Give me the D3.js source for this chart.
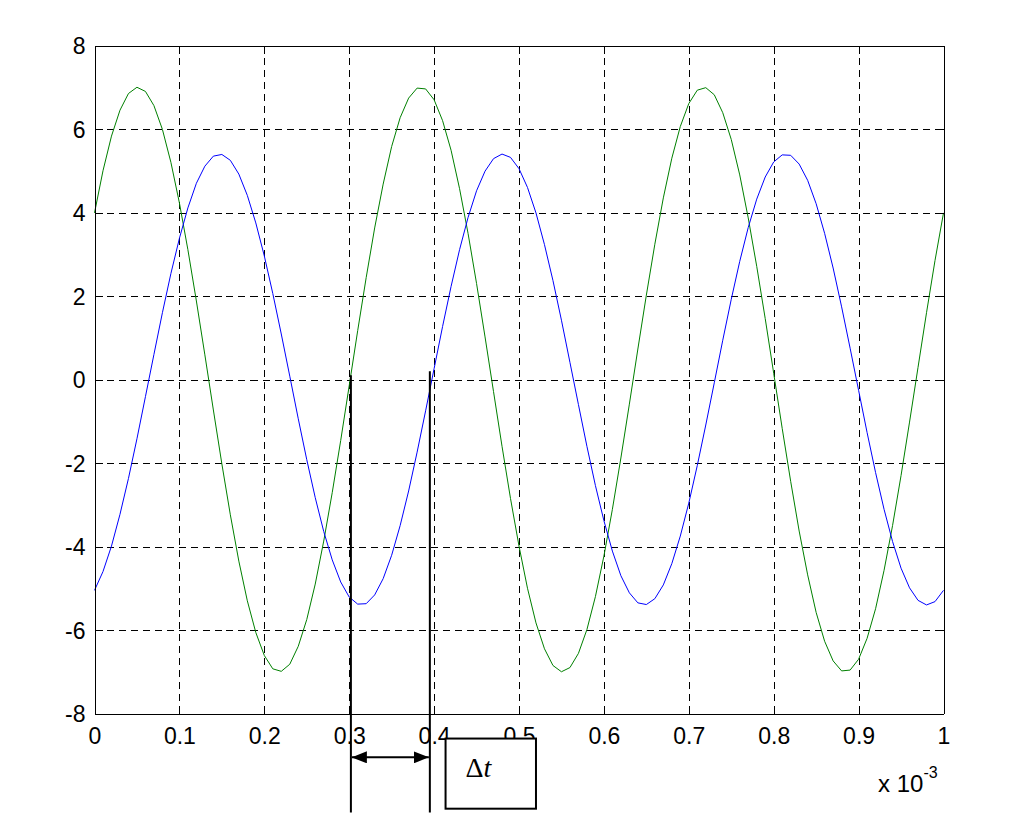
<!DOCTYPE html>
<html>
<head>
<meta charset="utf-8">
<script src="https://cdn.jsdelivr.net/npm/d3@7"></script>
<style>
  html, body { margin: 0; padding: 0; background: #ffffff; }
  svg { display: block; }
</style>
</head>
<body>
<svg id="chart" width="1012" height="822"></svg>
<script>
// ---- data (time in ms, i.e. x 10^-3 s) ----
const timeStep = 0.01;
const greenValues = [
  3.99, 5.00, 5.83, 6.45, 6.85, 7.00, 6.90, 6.56, 5.99, 5.20,
  4.23, 3.11, 1.88, 0.59, -0.73, -2.02, -3.24, -4.35, -5.30, -6.06,
  -6.61, -6.93, -6.99, -6.82, -6.39, -5.75, -4.90, -3.87, -2.71, -1.46,
  -0.15, 1.17, 2.44, 3.63, 4.68, 5.58, 6.27, 6.74, 6.98, 6.96,
  6.70, 6.20, 5.49, 4.57, 3.50, 2.30, 1.02, -0.29, -1.60, -2.85,
  -3.99, -5.00, -5.83, -6.45, -6.85, -7.00, -6.90, -6.56, -5.99, -5.20,
  -4.23, -3.11, -1.88, -0.59, 0.73, 2.02, 3.24, 4.35, 5.30, 6.06,
  6.61, 6.93, 6.99, 6.82, 6.39, 5.75, 4.90, 3.87, 2.71, 1.46,
  0.15, -1.17, -2.44, -3.63, -4.68, -5.58, -6.27, -6.74, -6.98, -6.96,
  -6.70, -6.20, -5.49, -4.57, -3.50, -2.30, -1.02, 0.29, 1.60, 2.85,
  3.99
];
const blueValues = [
  -5.05, -4.60, -3.99, -3.23, -2.37, -1.42, -0.41, 0.60, 1.60, 2.54,
  3.38, 4.11, 4.70, 5.11, 5.35, 5.39, 5.25, 4.92, 4.41, 3.75,
  2.96, 2.06, 1.09, 0.08, -0.94, -1.92, -2.83, -3.64, -4.32, -4.85,
  -5.21, -5.38, -5.37, -5.16, -4.77, -4.21, -3.50, -2.67, -1.74, -0.75,
  0.26, 1.27, 2.23, 3.11, 3.88, 4.52, 4.99, 5.29, 5.40, 5.32,
  5.05, 4.60, 3.99, 3.23, 2.37, 1.42, 0.41, -0.60, -1.60, -2.54,
  -3.38, -4.11, -4.70, -5.11, -5.35, -5.39, -5.25, -4.92, -4.41, -3.75,
  -2.96, -2.06, -1.09, -0.08, 0.94, 1.92, 2.83, 3.64, 4.32, 4.85,
  5.21, 5.38, 5.37, 5.16, 4.77, 4.21, 3.50, 2.67, 1.74, 0.75,
  -0.26, -1.27, -2.23, -3.11, -3.88, -4.52, -4.99, -5.29, -5.40, -5.32,
  -5.05
];
const xTicks = [0, 0.1, 0.2, 0.3, 0.4, 0.5, 0.6, 0.7, 0.8, 0.9, 1];
const xTickLabels = ["0", "0.1", "0.2", "0.3", "0.4", "0.5", "0.6", "0.7", "0.8", "0.9", "1"];
const yTicks = [-8, -6, -4, -2, 0, 2, 4, 6, 8];
const yTickLabels = ["-8", "-6", "-4", "-2", "0", "2", "4", "6", "8"];
const exponentBase = "x 10";
const exponentPower = "-3";
// Δt annotation, in data units
const deltaTimes = [0.302, 0.395];     // the two zero crossings
const deltaLineTops = [0.1, 0.2];       // top of each marker line
const deltaLineBottom = -10.37;
const deltaArrowY = -9.05;
const deltaBox = { t0: 0.4135, t1: 0.52, v0: -8.6, v1: -10.28 };
const deltaLabel = "Δ";
const deltaLabelItalic = "t";

// ---- layout ----
const svg = d3.select("#chart");
const W = 1012, H = 822;
const plot = { left: 94.5, right: 943.5, top: 45.5, bottom: 713.5 };
const SANS = "'Liberation Sans', Arial, sans-serif";
const SERIF = "'Liberation Serif', 'Times New Roman', serif";

svg.append("rect").attr("width", W).attr("height", H).attr("fill", "#ffffff");

const x = d3.scaleLinear().domain([0, 1]).range([plot.left, plot.right]);
const y = d3.scaleLinear().domain([-8, 8]).range([plot.bottom, plot.top]);

// grid
const grid = svg.append("g").attr("stroke", "#000").attr("stroke-width", 1)
  .attr("stroke-dasharray", "7,5").attr("shape-rendering", "crispEdges").attr("fill", "none");
grid.selectAll("line.gx").data(xTicks.slice(1, -1)).join("line")
  .attr("x1", d => Math.round(x(d)) + 0.5).attr("x2", d => Math.round(x(d)) + 0.5)
  .attr("y1", plot.top).attr("y2", plot.bottom);
grid.selectAll("line.gy").data(yTicks.slice(1, -1)).join("line")
  .attr("y1", d => Math.round(y(d)) + 0.5).attr("y2", d => Math.round(y(d)) + 0.5)
  .attr("x1", plot.left).attr("x2", plot.right);

// series
const tVals = greenValues.map((_, i) => +(i * timeStep).toFixed(2));
const line = d3.line().x((d, i) => x(tVals[i])).y(d => y(d));
svg.append("path").datum(greenValues).attr("d", line)
  .attr("fill", "none").attr("stroke", "#008000").attr("stroke-width", 1);
svg.append("path").datum(blueValues).attr("d", line)
  .attr("fill", "none").attr("stroke", "#0000ff").attr("stroke-width", 1);

// axes (ticks inside, MATLAB style)
const fmtX = (d, i) => xTickLabels[i];
const fmtY = (d, i) => yTickLabels[i];
const axB = svg.append("g").attr("transform", `translate(0,${plot.bottom})`)
  .call(d3.axisBottom(x).tickValues(xTicks).tickFormat(fmtX).tickSizeInner(-8).tickSizeOuter(0).tickPadding(14));
const axT = svg.append("g").attr("transform", `translate(0,${plot.top})`)
  .call(d3.axisTop(x).tickValues(xTicks).tickFormat("").tickSizeInner(-8).tickSizeOuter(0));
const axL = svg.append("g").attr("transform", `translate(${plot.left},0)`)
  .call(d3.axisLeft(y).tickValues(yTicks).tickFormat(fmtY).tickSizeInner(-8).tickSizeOuter(0).tickPadding(9));
const axR = svg.append("g").attr("transform", `translate(${plot.right},0)`)
  .call(d3.axisRight(y).tickValues(yTicks).tickFormat("").tickSizeInner(-8).tickSizeOuter(0));
[axB, axT, axL, axR].forEach(g => {
  g.attr("font-family", null).attr("font-size", null);
  g.select(".domain").attr("stroke", "#000").attr("stroke-width", 1).attr("shape-rendering", "crispEdges");
  g.selectAll(".tick line").attr("stroke", "#000").attr("shape-rendering", "crispEdges");
  g.selectAll("text").style("font-family", SANS).style("font-size", "23px").attr("fill", "#000");
});
axB.selectAll("text").attr("dy", "0.71em");
axL.selectAll("text").attr("dy", "0.36em");

// exponent label
const ex = svg.append("text").attr("x", 878).attr("y", 792)
  .style("font-family", SANS).style("font-size", "24px").attr("fill", "#000");
ex.append("tspan").text(exponentBase);
ex.append("tspan").style("font-size", "16px").attr("dy", -14).text(exponentPower);

// Δt annotation
const ann = svg.append("g");
deltaTimes.forEach((t, i) => {
  ann.append("line")
    .attr("x1", x(t)).attr("x2", x(t))
    .attr("y1", y(deltaLineTops[i])).attr("y2", y(deltaLineBottom))
    .attr("stroke", "#000").attr("stroke-width", 2);
});
const defs = svg.append("defs");
defs.append("marker").attr("id", "ahEnd").attr("viewBox", "0 0 15 12")
  .attr("refX", 15).attr("refY", 6).attr("markerWidth", 15).attr("markerHeight", 12)
  .attr("markerUnits", "userSpaceOnUse").attr("orient", "auto")
  .append("path").attr("d", "M0,0 L15,6 L0,12 Z").attr("fill", "#000");
defs.append("marker").attr("id", "ahStart").attr("viewBox", "0 0 15 12")
  .attr("refX", 0).attr("refY", 6).attr("markerWidth", 15).attr("markerHeight", 12)
  .attr("markerUnits", "userSpaceOnUse").attr("orient", "auto")
  .append("path").attr("d", "M15,0 L0,6 L15,12 Z").attr("fill", "#000");
ann.append("line")
  .attr("x1", x(deltaTimes[0]) + 1).attr("x2", x(deltaTimes[1]) - 1)
  .attr("y1", y(deltaArrowY)).attr("y2", y(deltaArrowY))
  .attr("stroke", "#000").attr("stroke-width", 2)
  .attr("marker-start", "url(#ahStart)").attr("marker-end", "url(#ahEnd)");
ann.append("rect")
  .attr("x", x(deltaBox.t0)).attr("y", y(deltaBox.v0))
  .attr("width", x(deltaBox.t1) - x(deltaBox.t0)).attr("height", y(deltaBox.v1) - y(deltaBox.v0))
  .attr("fill", "#fff").attr("stroke", "#000").attr("stroke-width", 2);
const dt = ann.append("text")
  .attr("x", x(deltaBox.t0) + 20).attr("y", y(deltaBox.v0) + 38)
  .style("font-family", SERIF).style("font-size", "28px").attr("fill", "#000");
dt.append("tspan").style("font-style", "normal").text(deltaLabel);
dt.append("tspan").style("font-style", "italic").text(deltaLabelItalic);
</script>
</body>
</html>
